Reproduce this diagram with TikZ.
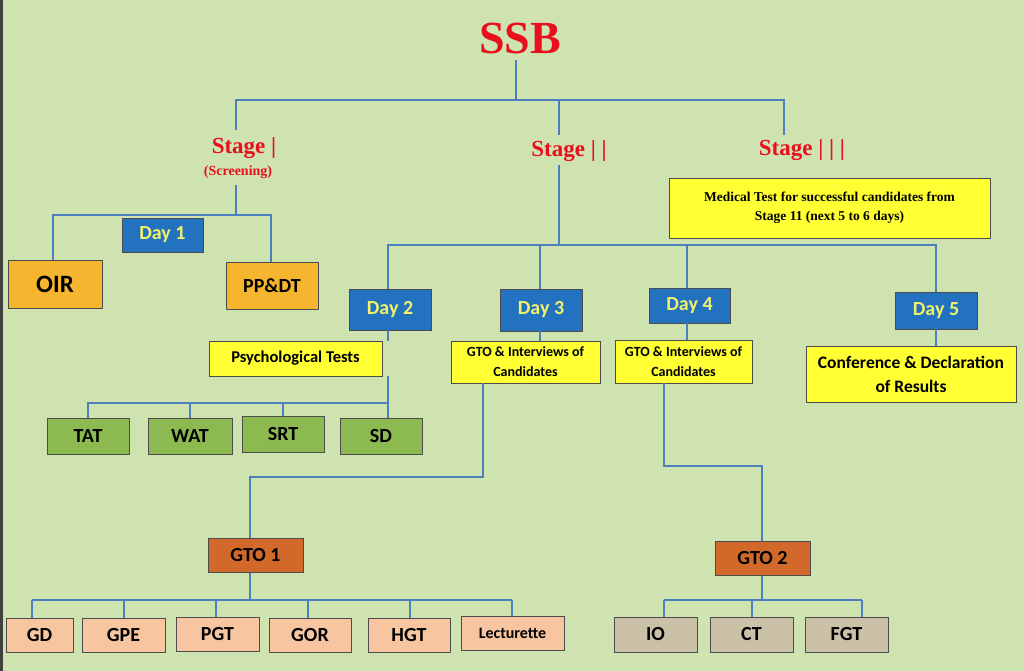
\documentclass[tikz,border=0pt]{standalone}
\usepackage{fontspec}
\setmainfont{Carlito}
\newfontfamily\serifb{Liberation Serif}
\begin{document}
\begin{tikzpicture}[x=1pt,y=-1pt,
 box/.style={draw=black!70,line width=0.8pt,inner sep=0pt,font=\bfseries},
 dayb/.style={box,fill=dayblue,text=dayyel,font=\bfseries\fontsize{20}{22}\selectfont},
 yel/.style={box,fill=ybox,align=center,font=\bfseries\fontsize{13}{17}\selectfont},
 orb/.style={box,fill=orbox,font=\bfseries\fontsize{25}{26}\selectfont},
 grb/.style={box,fill=grbox,font=\bfseries\fontsize{20}{22}\selectfont},
 pcb/.style={box,fill=pcbox,font=\bfseries\fontsize{20}{22}\selectfont},
 gyb/.style={box,fill=gybox,font=\bfseries\fontsize{20}{22}\selectfont},
 gtob/.style={box,fill=gtobox,font=\bfseries\fontsize{20}{22}\selectfont},
 ln/.style={draw=lnblue,line width=2pt},
 stg/.style={text=ssbred,font=\serifb\bfseries\fontsize{23}{24}\selectfont}]
\definecolor{bg}{HTML}{CFE3B0}
\definecolor{dayblue}{HTML}{2272C0}
\definecolor{dayyel}{HTML}{F2F26A}
\definecolor{ybox}{HTML}{FFFF33}
\definecolor{orbox}{HTML}{F6B52E}
\definecolor{grbox}{HTML}{8DBA50}
\definecolor{pcbox}{HTML}{F7C6A0}
\definecolor{gybox}{HTML}{CBC1A9}
\definecolor{gtobox}{HTML}{D2692A}
\definecolor{lnblue}{HTML}{4D7FBE}
\definecolor{ssbred}{HTML}{E8101E}
\fill[bg] (0,0) rectangle (1024,671);
\useasboundingbox (0,0) rectangle (1024,671);
\fill[black!75] (0,0) rectangle (3,671);
% titles
\node[text=ssbred,font=\serifb\bfseries\fontsize{46}{48}\selectfont] (ssb) at (520,38) {SSB};
\node[stg] (s1) at (244,148) {Stage |};
\node[text=ssbred,font=\serifb\bfseries\fontsize{14}{15}\selectfont] (scr) at (238,172) {(Screening)};
\node[stg] (s2) at (569,151) {Stage | |};
\node[stg] (s3) at (802,150) {Stage | | |};
% top lines
\draw[ln] (516,60) -- (516,100) (236,130) -- (236,100) -- (784,100) -- (784,135) (559,100) -- (559,135);
% stage I
\draw[ln] (236,185) -- (236,215) (53,260) -- (53,215) -- (271,215) -- (271,262);
\node[dayb,minimum width=81,minimum height=34] (d1) at (162.5,235) {Day 1};
\node[orb,minimum width=94,minimum height=48] (oir) at (55,284) {OIR};
\node[box,fill=orbox,font=\bfseries\fontsize{20}{22}\selectfont,minimum width=92,minimum height=47] (pp) at (272,285.5) {PP\&DT};
% stage II
\draw[ln] (559,165) -- (559,245) (388,289) -- (388,245) -- (936,245) -- (936,292) (540,245) -- (540,289) (687,245) -- (687,288);
\node[yel,font=\serifb\bfseries\fontsize{13.5}{19}\selectfont,minimum width=321,minimum height=60] (med) at (829.5,208) {Medical Test for successful candidates from\\Stage 11 (next 5 to 6 days)};
\node[dayb,minimum width=82,minimum height=41] (d2) at (390,309.5) {Day 2};
\node[dayb,minimum width=82,minimum height=42] (d3) at (541,310) {Day 3};
\node[dayb,minimum width=81,minimum height=35] (d4) at (689.5,305.5) {Day 4};
\node[dayb,minimum width=82,minimum height=37] (d5) at (936,310.5) {Day 5};
\node[yel,font=\bfseries\fontsize{16.5}{18}\selectfont,minimum width=173,minimum height=35] (psy) at (295.5,358.5) {Psychological Tests};
\node[yel,font=\bfseries\fontsize{14}{20}\selectfont,minimum width=149,minimum height=42] (g3) at (525.5,362) {GTO \& Interviews of\\Candidates};
\node[yel,font=\bfseries\fontsize{14}{20}\selectfont,minimum width=137,minimum height=43] (g4) at (683.5,361.5) {GTO \& Interviews of\\Candidates};
\node[yel,font=\bfseries\fontsize{17.5}{24}\selectfont,minimum width=210,minimum height=56] (conf) at (911,374) {Conference \& Declaration\\of Results};
\draw[ln] (388,330) -- (388,341) (388,376) -- (388,403) -- (88,403) -- (88,418) (190,403) -- (190,418) (283,403) -- (283,418) (388,403) -- (388,418);
\draw[ln] (540,331) -- (540,341) (687,323) -- (687,340) (936,329) -- (936,346);
\node[grb,minimum width=82,minimum height=36] (tat) at (88,436) {TAT};
\node[grb,minimum width=84,minimum height=36] (wat) at (190,436) {WAT};
\node[grb,minimum width=82,minimum height=36] (srt) at (283,434) {SRT};
\node[grb,minimum width=82,minimum height=36] (sd) at (381,436) {SD};
% GTO1
\draw[ln] (483,383) -- (483,477) -- (250,477) -- (250,538) (250,572) -- (250,600) (32,600) -- (512,600)
 (32,600) -- (32,618) (124,600) -- (124,618) (216,600) -- (216,618) (308,600) -- (308,618) (410,600) -- (410,618) (512,600) -- (512,618);
\node[gtob,minimum width=95,minimum height=34] (gto1) at (255.5,555) {GTO 1};
\node[pcb,minimum width=67,minimum height=34] (gd) at (39.5,635) {GD};
\node[pcb,minimum width=83,minimum height=34] (gpe) at (123.5,635) {GPE};
\node[pcb,minimum width=83,minimum height=34] (pgt) at (217.5,634) {PGT};
\node[pcb,minimum width=82,minimum height=34] (gor) at (310,635) {GOR};
\node[pcb,minimum width=82,minimum height=34] (hgt) at (409,635) {HGT};
\node[pcb,font=\bfseries\fontsize{16}{18}\selectfont,minimum width=103,minimum height=34] (lec) at (512.5,633) {Lecturette};
% GTO2
\draw[ln] (664,383) -- (664,466) -- (762,466) -- (762,541) (762,575) -- (762,600) (664,600) -- (862,600)
 (664,600) -- (664,617) (752,600) -- (752,617) (862,600) -- (862,617);
\node[gtob,minimum width=95,minimum height=34] (gto2) at (762.5,558) {GTO 2};
\node[gyb,minimum width=83,minimum height=35] (io) at (655.5,634.5) {IO};
\node[gyb,minimum width=83,minimum height=35] (ct) at (751.5,634.5) {CT};
\node[gyb,minimum width=83,minimum height=35] (fgt) at (846.5,634.5) {FGT};
\end{tikzpicture}
\end{document}
